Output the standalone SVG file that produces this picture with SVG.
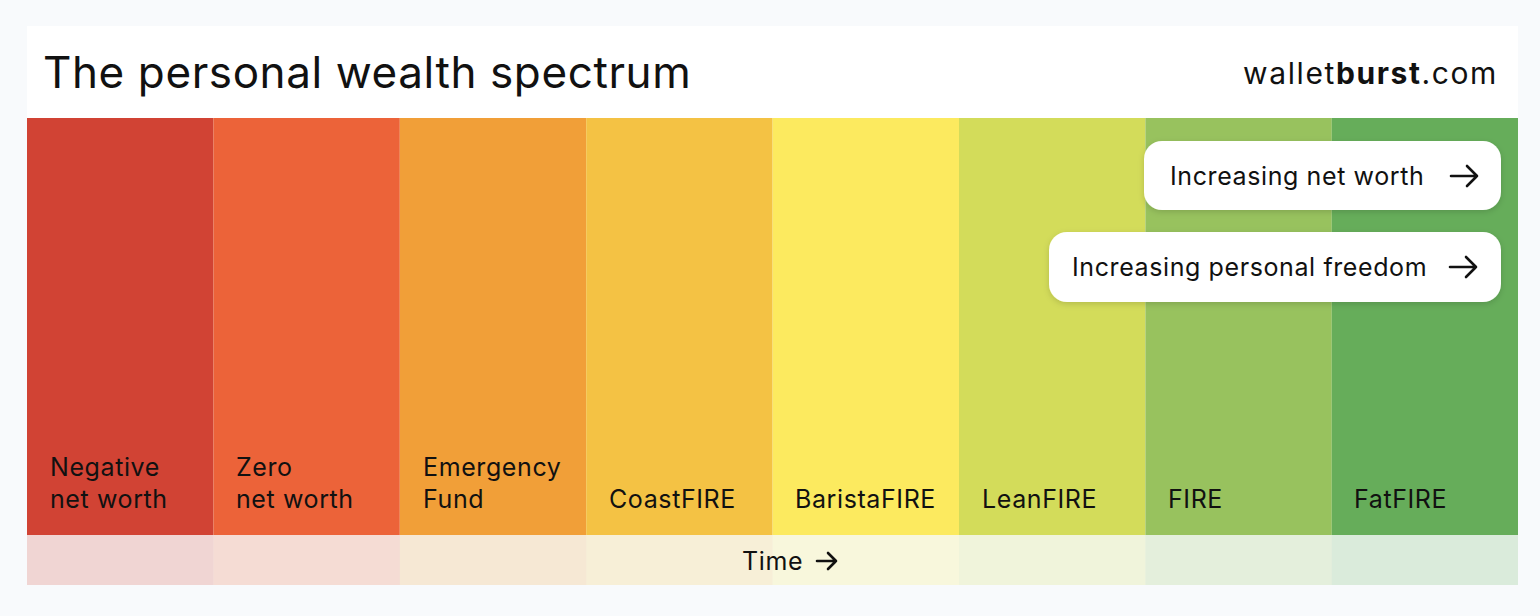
<svg xmlns="http://www.w3.org/2000/svg" width="1540" height="616" viewBox="0 0 1540 616">
<defs>
<style>
text{font-family:Inter,"Noto Sans","Liberation Sans",sans-serif;fill:#111;}
.lbl{font-size:25px;letter-spacing:0.6px;}
.pill{fill:#fff;}
.arr{fill:none;stroke:#111;stroke-width:2.6;stroke-linecap:round;stroke-linejoin:round;}
.tint{opacity:0.2;}
</style>
<filter id="sh" x="-10%" y="-30%" width="120%" height="160%">
<feDropShadow dx="0" dy="2" stdDeviation="3" flood-color="#000" flood-opacity="0.15"/>
</filter>
</defs>
<rect x="0" y="0" width="1540" height="616" fill="#f8fafc"/>
<rect x="27" y="26" width="1491" height="92" fill="#fff"/>
<text x="43" y="88" font-size="44" letter-spacing="0.6">The personal wealth spectrum</text>
<text x="1498" y="84" font-size="30" letter-spacing="1.6" text-anchor="end">wallet<tspan font-weight="bold">burst</tspan>.com</text>

<g id="col1"><rect x="27" y="118" width="186.4" height="417" fill="#d14334"/><rect class="tint" x="27" y="535" width="186.4" height="50" fill="#d14334"/><text class="lbl" x="50" y="476">Negative</text><text class="lbl" x="50" y="508">net worth</text></g>
<g id="col2"><rect x="213.4" y="118" width="186.4" height="417" fill="#ec6339"/><rect class="tint" x="213.4" y="535" width="186.4" height="50" fill="#ec6339"/><text class="lbl" x="236" y="476">Zero</text><text class="lbl" x="236" y="508">net worth</text></g>
<g id="col3"><rect x="399.8" y="118" width="186.4" height="417" fill="#f19f38"/><rect class="tint" x="399.8" y="535" width="186.4" height="50" fill="#f19f38"/><text class="lbl" x="423" y="476">Emergency</text><text class="lbl" x="423" y="508">Fund</text></g>
<g id="col4"><rect x="586.2" y="118" width="186.4" height="417" fill="#f4c244"/><rect class="tint" x="586.2" y="535" width="186.4" height="50" fill="#f4c244"/><text class="lbl" x="609" y="508">CoastFIRE</text></g>
<g id="col5"><rect x="772.6" y="118" width="186.4" height="417" fill="#fcea5f"/><rect class="tint" x="772.6" y="535" width="186.4" height="50" fill="#fcea5f"/><text class="lbl" x="795" y="508">BaristaFIRE</text></g>
<g id="col6"><rect x="959" y="118" width="186.4" height="417" fill="#d3dc5a"/><rect class="tint" x="959" y="535" width="186.4" height="50" fill="#d3dc5a"/><text class="lbl" x="982" y="508">LeanFIRE</text></g>
<g id="col7"><rect x="1145.4" y="118" width="186.4" height="417" fill="#98c25e"/><rect class="tint" x="1145.4" y="535" width="186.4" height="50" fill="#98c25e"/><text class="lbl" x="1168" y="508">FIRE</text></g>
<g id="col8"><rect x="1331.8" y="118" width="186.2" height="417" fill="#66ad5a"/><rect class="tint" x="1331.8" y="535" width="186.2" height="50" fill="#66ad5a"/><text class="lbl" x="1354" y="508">FatFIRE</text></g>

<g id="time"><text class="lbl" x="742" y="570">Time</text><path class="arr" d="M817 561 H836 M828 553 L836 561 L828 569"/></g>

<g id="pill1"><rect class="pill" x="1144" y="141" width="357" height="69" rx="18" filter="url(#sh)"/><text class="lbl" x="1170" y="185">Increasing net worth</text><path class="arr" d="M1451 176 H1477 M1467 166 L1477 176 L1467 186"/></g>
<g id="pill2"><rect class="pill" x="1049" y="232" width="452" height="70" rx="18" filter="url(#sh)"/><text class="lbl" x="1072" y="276">Increasing personal freedom</text><path class="arr" d="M1450 267 H1476 M1466 257 L1476 267 L1466 277"/></g>
<g id="connectors"/>
</svg>
